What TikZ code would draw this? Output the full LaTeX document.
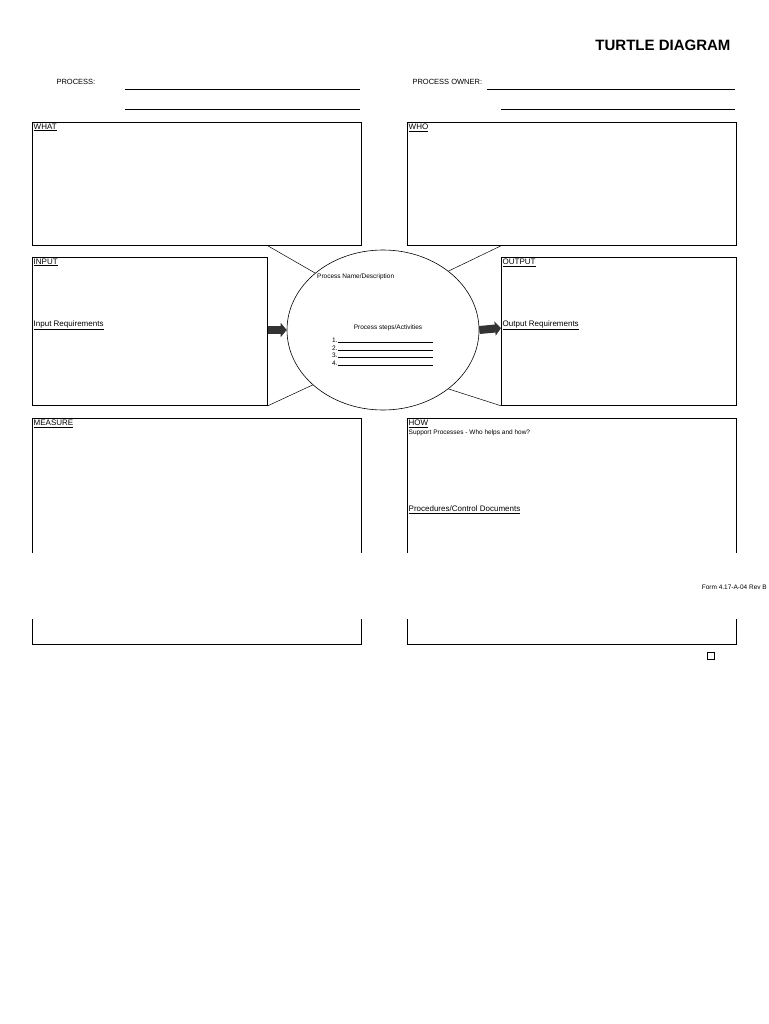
\documentclass[tikz,border=0pt]{standalone}
\usepackage{fontspec}
\setmainfont{Liberation Sans}
\usetikzlibrary{shapes.geometric,arrows.meta,positioning}
\begin{document}
\begin{tikzpicture}[x=1pt,y=-1pt]
	\tikzset{box/.style = {draw, line width=0.8pt, anchor=north west, inner sep=0pt},
		head/.style = {anchor=north west, inner sep=1.5pt, font=\fontsize{8}{9}\selectfont},
		small/.style = {inner sep=0pt, font=\fontsize{6.5}{7.5}\selectfont},
		spoke/.style = {line width=0.5pt},
		push/.style = {line width=8pt, -{Triangle[length=6pt,width=14pt]}, black!80}}
	\useasboundingbox (0,0) rectangle (768,1024);
	% heading
	\node[anchor=east, font=\bfseries\fontsize{15}{17}\selectfont] (title) at (734,45) {TURTLE DIAGRAM};
	\node[anchor=west, font=\fontsize{7.5}{9}\selectfont] (proc) at (53,82) {PROCESS:};
	\node[anchor=west, font=\fontsize{7.5}{9}\selectfont] (owner) at (409,82) {PROCESS OWNER:};
	\draw (125,89) -- (360,89) (125,109) -- (360,109);
	\draw (487,89) -- (735,89) (501,109) -- (735,109);
	% six boxes
	\node[box, minimum width=329pt, minimum height=123pt] (what) at (32,122) {};
	\node[box, minimum width=329pt, minimum height=123pt] (who) at (407,122) {};
	\node[box, minimum width=235pt, minimum height=148pt] (input) at (32,257) {};
	\node[box, minimum width=235pt, minimum height=148pt] (output) at (501,257) {};
	\node[inner sep=0pt, anchor=north west, minimum width=329pt, minimum height=226pt] (measure) at (32,418) {};
	\node[inner sep=0pt, anchor=north west, minimum width=329pt, minimum height=226pt] (how) at (407,418) {};
	\foreach \b in {measure, how} {
		\draw[line width=0.8pt] (\b.north west|-0,553) -- (\b.north west) -- (\b.north east) -- (\b.north east|-0,553);
		\draw[line width=0.8pt] (\b.south west|-0,619) -- (\b.south west) -- (\b.south east) -- (\b.south east|-0,619);
	}
	\node[head] at (what.north west) {\underline{WHAT}};
	\node[head] at (who.north west) {\underline{WHO}};
	\node[head] at (input.north west) {\underline{INPUT}};
	\node[head] at (output.north west) {\underline{OUTPUT}};
	\node[head] at (measure.north west) {\underline{MEASURE}};
	\node[head] (hhow) at (how.north west) {\underline{HOW}};
	\node[head, anchor=west] at (32,325) {\underline{Input Requirements}};
	\node[head, anchor=west] at (501,325) {\underline{Output Requirements}};
	\node[small, anchor=north west] at ([xshift=1.5pt,yshift=-1pt]hhow.south west) {Support Processes - Who helps and how?};
	\node[head, anchor=west] at (407,510) {\underline{Procedures/Control Documents}};
	% centre
	\node[draw, ellipse, line width=0.6pt, minimum width=192pt, minimum height=160pt] (core) at (383,330) {};
	\node[small, anchor=west] at (317,277) {Process Name/Description};
	\node[small] (steps) at (388,328) {Process steps/Activities};
	\foreach \i in {1,...,4}
		\node[small, anchor=west] at (332,333+7.5*\i) {\i.\rule{95pt}{0.4pt}};
	\draw[spoke] (what.south east -| input.north east) -- (core.140);
	\draw[spoke] (who.south west -| output.north west) -- (core.42);
	\draw[spoke] (input.south east) -- (core.218);
	\draw[spoke] (output.south west) -- (core.318);
	\draw[push] (input.east|-0,330) -- (core.west);
	\draw[push] (core.east) -- (output.west|-0,328);
	% footer
	\node[small, anchor=east] (form) at (767,587) {Form 4.17-A-04 Rev B};
	\node[draw, line width=0.7pt, minimum size=7pt, inner sep=0pt] (tick) at (711,656) {};
\end{tikzpicture}
\end{document}
